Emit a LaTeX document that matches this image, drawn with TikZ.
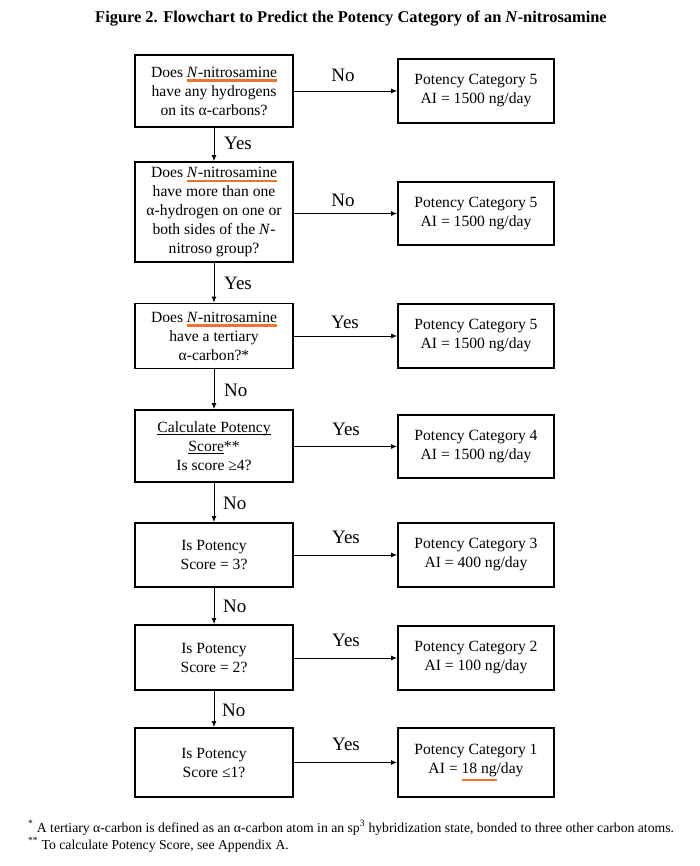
\documentclass[tikz,border=0pt]{standalone}
\usepackage{fontspec}
\setmainfont{Liberation Serif}
\usetikzlibrary{arrows.meta}
\definecolor{uorange}{HTML}{E8762D}
\newcommand\orul[2][-5pt]{\setbox0\hbox{#2}\rlap{\color{uorange}\rule[#1]{\wd0}{2.6pt}}\box0}
\newcommand\blul[1]{\setbox0\hbox{#1}\rlap{\rule[-2.2pt]{\wd0}{0.7pt}}\box0}
\begin{document}
\begin{tikzpicture}[x=1pt,y=-1pt,
  box/.style={draw=black,line width=1.9pt,rectangle,align=center,inner sep=0pt,
    font=\fontsize{15.6}{19}\selectfont,text=black},
  lbox/.style={box,minimum width=158pt},
  rbox/.style={box,minimum width=156pt},
  arr/.style={line width=0.9pt,-{Latex[length=6pt,width=5pt]}},
  lab/.style={font=\fontsize{19}{22}\selectfont,inner sep=0pt},
  fn/.style={font=\fontsize{13.7}{17}\selectfont,inner sep=0pt,anchor=base west,align=left}]
\useasboundingbox (0,0) rectangle (700,866);
\fill[white] (0,0) rectangle (700,866);
\node[font=\bfseries\fontsize{16.4}{19}\selectfont,inner sep=0pt,anchor=base] (title) at (351,23)
  {Figure 2. Flowchart to Predict the Potency Category of an \textit{N}-nitrosamine};
% left boxes
\node[lbox,minimum height=72pt] (l1) at (214,91) {Does \orul{\textit{N}-nitrosamine}\\have any hydrogens\\on its α-carbons?};
\node[lbox,minimum height=100pt] (l2) at (214,212) {Does \orul{\textit{N}-nitrosamine}\\have more than one\\α-hydrogen on one or\\both sides of the \textit{N}-\\nitroso group?};
\node[lbox,minimum height=65pt] (l3) at (214,336) {Does \orul{\textit{N}-nitrosamine}\\have a tertiary\\α-carbon?*};
\node[lbox,minimum height=72pt] (l4) at (214,446) {\blul{Calculate Potency}\\\blul{Score}**\\Is score ≥4?};
\node[lbox,minimum height=64pt] (l5) at (214,555) {Is Potency\\Score = 3?};
\node[lbox,minimum height=65pt] (l6) at (214,657.5) {Is Potency\\Score = 2?};
\node[lbox,minimum height=69pt] (l7) at (214,762.5) {Is Potency\\Score ≤1?};
% right boxes
\node[rbox,minimum height=64pt] (r1) at (476,91) {Potency Category 5\\AI = 1500 ng/day};
\node[rbox,minimum height=63pt] (r2) at (476,213.5) {Potency Category 5\\AI = 1500 ng/day};
\node[rbox,minimum height=64pt] (r3) at (476,336) {Potency Category 5\\AI = 1500 ng/day};
\node[rbox,minimum height=63pt] (r4) at (476,446.5) {Potency Category 4\\AI = 1500 ng/day};
\node[rbox,minimum height=64pt] (r5) at (476,555) {Potency Category 3\\AI = 400 ng/day};
\node[rbox,minimum height=64pt] (r6) at (476,658) {Potency Category 2\\AI = 100 ng/day};
\node[rbox,minimum height=69pt] (r7) at (476,762.5) {Potency Category 1\\AI = \orul[-8pt]{18 ng}/day};
% horizontal arrows
\foreach \i in {1,...,7} {\draw[arr] (l\i.east|-r\i.west) -- (r\i.west);}
% vertical arrows
\foreach \i/\j in {1/2,2/3,3/4,4/5,5/6,6/7} {\draw[arr] (l\i.south) -- (l\j.north);}
% horizontal labels
\node[lab] (h1) at (343,75) {No};
\node[lab] (h2) at (343,200) {No};
\node[lab] (h3) at (345,322) {Yes};
\node[lab] (h4) at (346,429) {Yes};
\node[lab] (h5) at (346,537) {Yes};
\node[lab] (h6) at (346,640) {Yes};
\node[lab] (h7) at (346,744) {Yes};
% vertical labels
\node[lab,anchor=west] (v1) at (224,143) {Yes};
\node[lab,anchor=west] (v2) at (224,283) {Yes};
\node[lab,anchor=west] (v3) at (224,390) {No};
\node[lab,anchor=west] (v4) at (223,503) {No};
\node[lab,anchor=west] (v5) at (223,606) {No};
\node[lab,anchor=west] (v6) at (222,710) {No};
% footnotes
\node[fn] (fn1) at (28,832)
  {\textsuperscript{*} A tertiary α-carbon is defined as an α-carbon atom in an sp\textsuperscript{3} hybridization state, bonded to three other carbon atoms.};
\node[fn] (fn2) at (28,849)
  {\textsuperscript{**} To calculate Potency Score, see Appendix A.};
\end{tikzpicture}
\end{document}
